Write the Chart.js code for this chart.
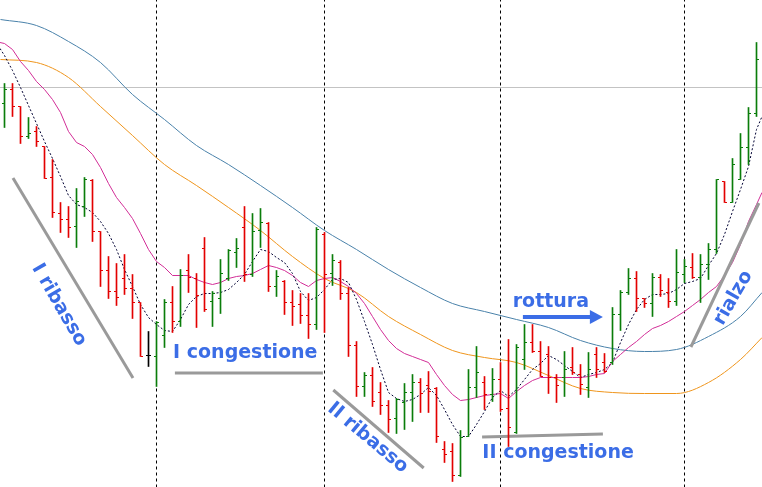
<!DOCTYPE html>
<html>
<head>
<meta charset="utf-8">
<script src="https://cdn.jsdelivr.net/npm/chart.js@4.4.1/dist/chart.umd.min.js"></script>
<style>
html, body { margin: 0; padding: 0; background: #fff; }
#chart { display: block; }
</style>
</head>
<body>
<canvas id="chart" width="762" height="487"></canvas>
<script>
// one row per session: [open, high, low, close]
var bars = [
    [383,403,359,397], [397,403,370,380], [380,380,343,350], [350,369,348,353], [355,360,340,345],
    [340,340,308,308], [309,327,269,274], [273,284,254,267], [267,280,249,259], [260,298,239,285],
    [280,309,270,307], [306,307,245,255], [255,255,200,216], [216,230,188,195], [195,223,181,189],
    [208,232,192,198], [198,212,168,184], [184,184,130,130], [131,155,120,131], [130,165,100,164],
    [151,187,139,184], [184,200,154,165], [165,217,160,211], [216,232,194,209], [208,213,159,191],
    [238,249,175,177], [185,195,160,193], [188,227,173,213], [208,237,206,236], [234,248,219,238],
    [259,280,205,212], [212,273,210,255], [256,278,239,264], [263,264,195,200], [200,216,190,210],
    [205,206,172,184], [184,196,161,180], [182,193,163,171], [171,193,148,162], [162,259,157,257],
    [252,254,154,212], [213,232,201,226], [224,226,187,193], [193,199,130,141], [141,145,90,100],
    [100,114,90,111], [111,119,80,85], [94,104,72,81], [81,86,54,67], [68,88,53,87],
    [84,103,57,94], [94,112,65,104], [104,108,74,93], [101,115,74,95], [98,99,44,50],
    [37,45,24,32], [35,43,5,11], [11,56,10,49], [50,117,50,99], [99,140,89,114],
    [104,110,77,92], [92,118,85,107], [107,124,75,77], [78,147,40,59], [54,142,53,139],
    [127,162,117,144], [144,162,134,135], [135,145,110,110], [132,140,93,109], [109,112,84,101],
    [109,135,90,117], [119,139,112,114], [112,122,92,102], [99,134,89,117], [132,139,109,117],
    [124,133,114,115], [124,179,122,172], [172,196,156,194], [194,218,192,208], [208,215,175,188],
    [188,188,179,183], [183,213,170,209], [209,212,190,196], [194,208,179,185], [185,237,181,214],
    [212,227,204,220], [219,233,208,209], [209,232,184,222], [222,243,207,237], [237,307,233,307],
    [305,305,284,284], [284,328,284,322], [307,353,307,339], [339,379,322,373], [373,444,370,427]
];

// short average (dashed), one value per session, plus the values at the two chart edges
var fastMA = [
    431,416,399,381,363,345,328,310,291,282, 279,274,265,253,237,217,200,182,169,162,
    156,155,167,182,190,193,193,194,197,204, 212,225,237,235,229,224,213,195,186,189,
    197,207,208,204,187,165,142,117,94,88,   85,87,92,99,91,77,62,50,50,62,
    75,89,96,90,97,107,117,123,131,127,      121,115,109,112,114,117,124,144,162,177,
    187,192,192,193,197,203,205,208,221,233, 252,275,297,320,357
];
var fastEdges = [438, 370];

// medium average (magenta)
var midMA = [
    443,437,425,416,405,397,387,374,355,344, 340,332,319,303,289,279,268,253,237,225,
    219,211,211,211,207,204,202,204,208,210, 211,213,217,221,219,216,211,204,200,206,
    208,209,205,200,193,183,170,157,146,138, 133,130,127,124,112,101,92,86,87,89,
    91,92,93,88,95,101,106,109,109,109,      109,109,109,110,112,113,125,132,139,145,
    152,158,161,165,170,175,181,187,194,200, 211,224,242,265,282
];
var midEdges = [444, 294];

// long averages, read every fourth session
var slowIdx = [-0.5, 4, 8, 12, 16, 20, 24, 28, 32, 36, 40, 44, 48, 52, 56, 60, 64, 68, 72, 76, 80, 84, 88, 92, 94.7];
var orangeMA = [427, 424, 409, 380, 351, 322, 301, 279, 256, 230, 208, 194, 170, 152, 136, 129, 124, 111, 98, 94, 93, 93, 104, 127, 149];
var blueMA = [467, 461, 445, 424, 392, 367, 341, 322, 301, 279, 256, 237, 217, 199, 183, 175, 167, 159, 146, 138, 135, 137, 150, 170, 194];

var monthBreaks = [19, 40, 62, 85];
var refLevel = 399;

// hand drawn lines: [fromSession, fromPrice, toSession, toPrice]
var trendLines = [
    [1.06, 308.5, 16.06, 108.5],
    [21.3, 113.5, 39.8, 113.5],
    [41.1, 96.5, 52.4, 18.5],
    [59.7, 49.5, 74.8, 52.5],
    [85.8, 139.5, 94.3, 283.5]
];
var breakArrow = [64.8, 169.5, 74.8, 169.5];

var noteTexts = ['I ribasso', 'I congestione', 'II ribasso', 'II congestione', 'rottura', 'rialzo'];
var noteAt = [[6.81, 181.5], [30.1, 133.5], [45.4, 48.5], [69.2, 33.5], [68.3, 184.5], [91.1, 188.5]];
var noteTurn = [60, 0, 40, 0, 0, -60];

var xMin = -0.5625, xMax = 94.6875;
var GREEN = '#0a7d0a', RED = '#e30000', BLUE_TXT = '#3b6de6';

var barColors = bars.map(function(b) {
    if (b[3] > b[0]) return GREEN;
    if (b[3] < b[0]) return RED;
    return '#000000';
});

function edged(values, edges) {
    var pts = [{ x: xMin, y: edges[0] }];
    values.forEach(function(v, i) { pts.push({ x: i, y: v }); });
    pts.push({ x: xMax, y: edges[1] });
    return pts;
}

function sampled(values) {
    return values.map(function(v, k) { return { x: slowIdx[k], y: v }; });
}

var tickShift = 0.1875;
var datasets = [];

datasets.push({
    type: 'scatter', order: 0,
    data: bars.map(function(b, i) { return { x: i - tickShift, y: b[0] }; }),
    pointStyle: 'line', pointRadius: 1, pointBorderWidth: 1,
    pointBorderColor: barColors, borderColor: barColors
});
datasets.push({
    type: 'scatter', order: 0,
    data: bars.map(function(b, i) { return { x: i + tickShift, y: b[3] }; }),
    pointStyle: 'line', pointRadius: 1, pointBorderWidth: 1,
    pointBorderColor: barColors, borderColor: barColors
});
datasets.push({
    type: 'bar', order: 1,
    data: bars.map(function(b, i) { return { x: i, y: [b[2], b[1]] }; }),
    backgroundColor: barColors, barThickness: 1, grouped: false, borderWidth: 0
});

trendLines.forEach(function(t) {
    datasets.push({
        type: 'line', order: 2,
        data: [{ x: t[0], y: t[1] }, { x: t[2], y: t[3] }],
        borderColor: '#9a9a9a', borderWidth: 3, pointRadius: 0
    });
});

datasets.push({
    type: 'line', order: 3, data: edged(fastMA, fastEdges),
    borderColor: '#000033', borderWidth: 1, borderDash: [2, 2], pointRadius: 0, tension: 0
});
datasets.push({
    type: 'line', order: 3, data: edged(midMA, midEdges),
    borderColor: '#d22e97', borderWidth: 1, pointRadius: 0, tension: 0
});
datasets.push({
    type: 'line', order: 4, data: sampled(orangeMA),
    borderColor: '#ef951c', borderWidth: 1, pointRadius: 0, cubicInterpolationMode: 'monotone'
});
datasets.push({
    type: 'line', order: 4, data: sampled(blueMA),
    borderColor: '#4a82aa', borderWidth: 1, pointRadius: 0, cubicInterpolationMode: 'monotone'
});

monthBreaks.forEach(function(m) {
    datasets.push({
        type: 'line', order: 5,
        data: [{ x: m, y: -1 }, { x: m, y: 488 }],
        borderColor: '#000000', borderWidth: 1, borderDash: [3, 3], pointRadius: 0
    });
});
datasets.push({
    type: 'line', order: 6,
    data: [{ x: xMin, y: refLevel }, { x: xMax, y: refLevel }],
    borderColor: '#c3c3c3', borderWidth: 1, pointRadius: 0
});

var notes = {
    id: 'notes',
    afterDatasetsDraw: function(chart) {
        var ctx = chart.ctx, sx = chart.scales.x, sy = chart.scales.y;
        ctx.save();
        ctx.fillStyle = BLUE_TXT;
        ctx.strokeStyle = BLUE_TXT;
        ctx.font = 'bold 19px "DejaVu Sans"';
        ctx.textAlign = 'center';
        ctx.textBaseline = 'middle';
        noteTexts.forEach(function(t, k) {
            ctx.save();
            ctx.translate(sx.getPixelForValue(noteAt[k][0]), sy.getPixelForValue(noteAt[k][1]));
            ctx.rotate(noteTurn[k] * Math.PI / 180);
            ctx.fillText(t, 0, 0);
            ctx.restore();
        });

        // arrow for the breakout
        var x0 = sx.getPixelForValue(breakArrow[0]), y0 = sy.getPixelForValue(breakArrow[1]);
        var x1 = sx.getPixelForValue(breakArrow[2]), y1 = sy.getPixelForValue(breakArrow[3]);
        ctx.lineWidth = 4;
        ctx.beginPath();
        ctx.moveTo(x0, y0);
        ctx.lineTo(x1 - 10, y1);
        ctx.stroke();
        ctx.beginPath();
        ctx.moveTo(x1, y1);
        ctx.lineTo(x1 - 13, y1 - 7);
        ctx.lineTo(x1 - 13, y1 + 7);
        ctx.closePath();
        ctx.fill();
        ctx.restore();
    }
};

var chart = new Chart(document.getElementById('chart'), {
    type: 'bar',
    data: { datasets: datasets },
    options: {
        responsive: false,
        animation: false,
        events: [],
        devicePixelRatio: 1,
        layout: { padding: 0, autoPadding: false },
        plugins: { legend: { display: false }, tooltip: { enabled: false } },
        scales: {
            x: { type: 'linear', min: xMin, max: xMax, offset: false, display: false },
            y: { type: 'linear', min: -0.5, max: 486.5, display: false }
        }
    },
    plugins: [notes]
});
</script>
</body>
</html>
